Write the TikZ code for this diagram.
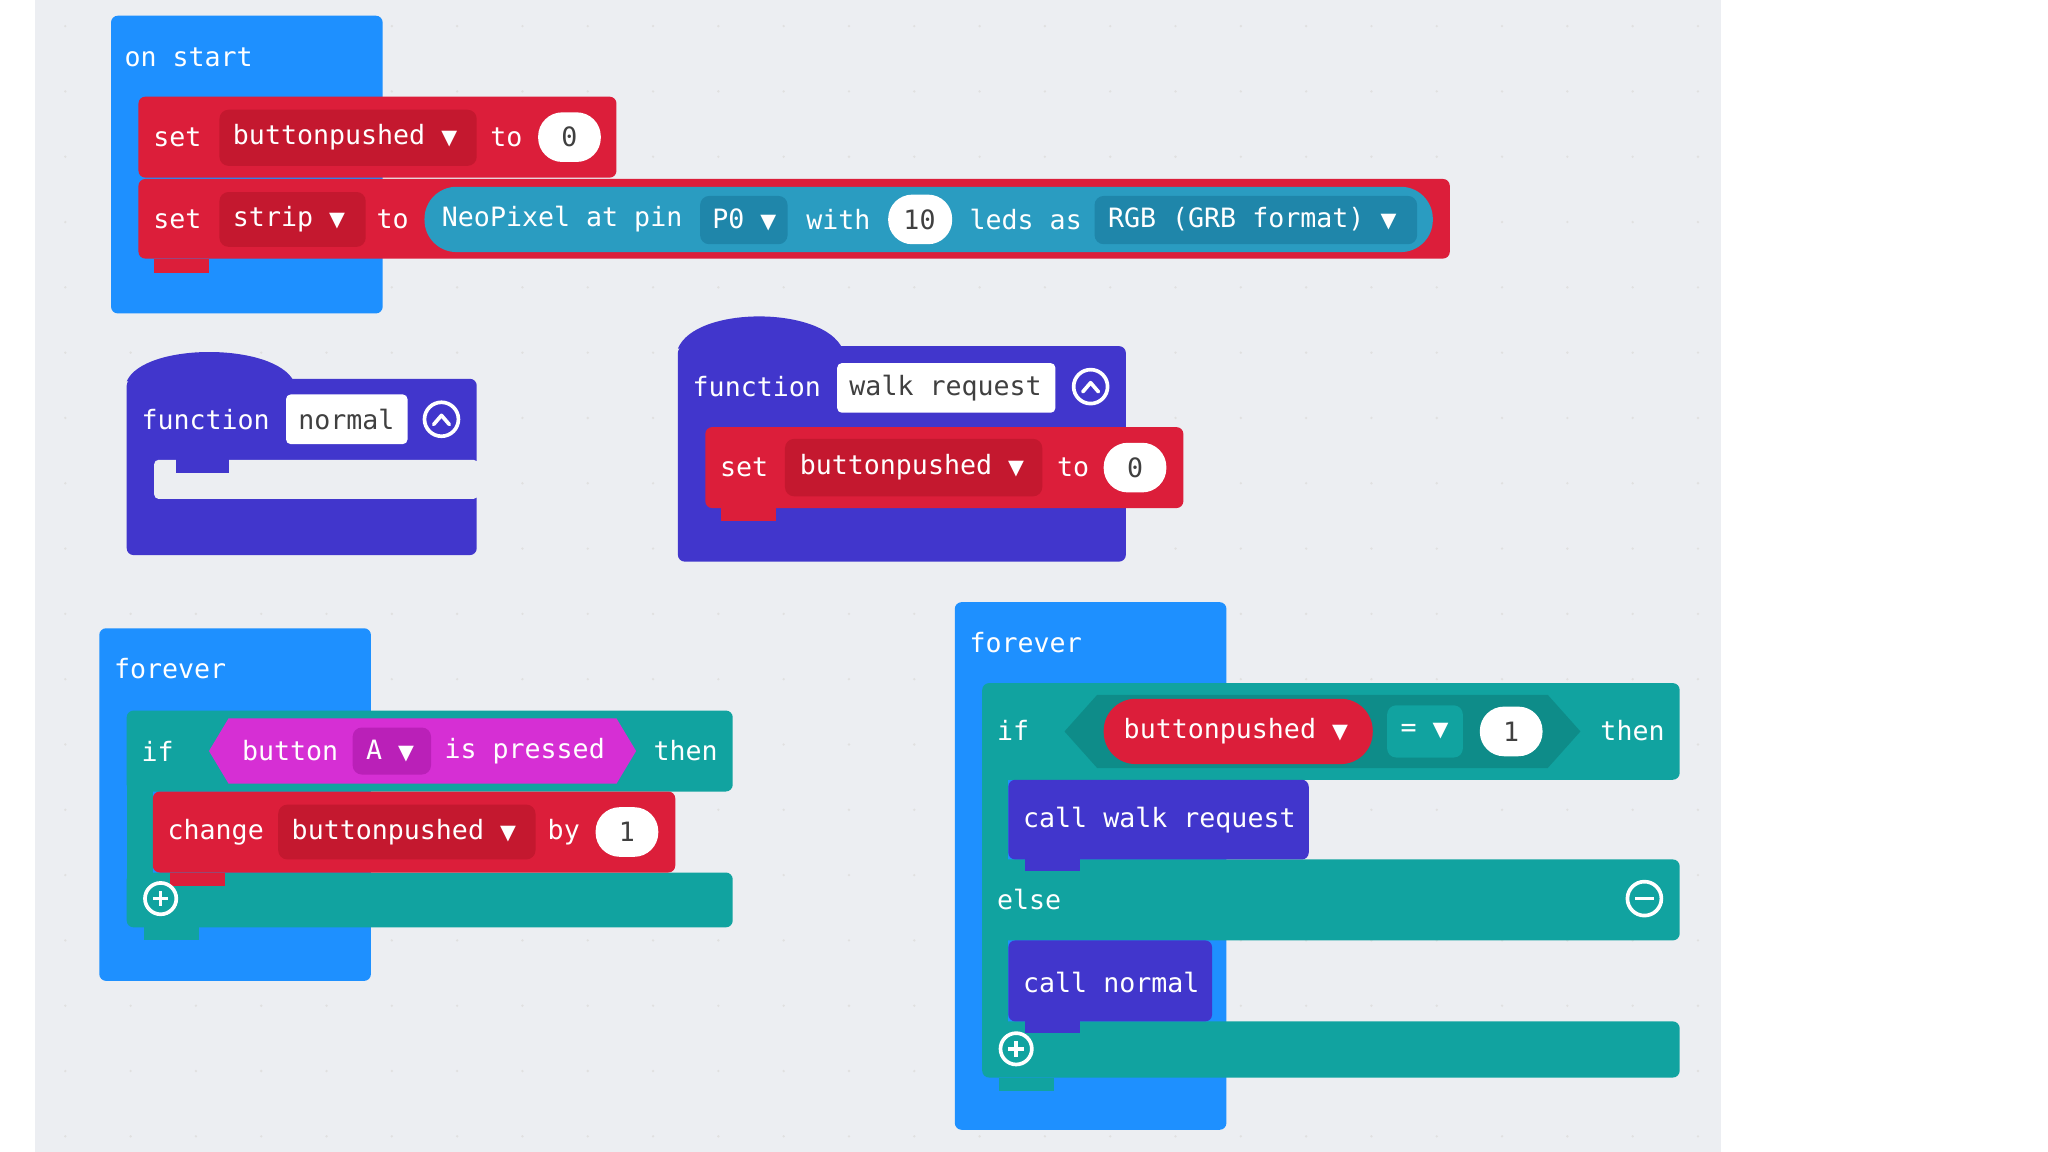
\documentclass[tikz,border=0pt]{standalone}
\usepackage{fontspec}
\setmonofont{DejaVu Sans Mono}
\newfontfamily\symf{DejaVu Sans}
\definecolor{bg}{HTML}{ECEEF2}
\definecolor{blueC}{HTML}{1E90FF}
\definecolor{redC}{HTML}{DC1E3A}
\definecolor{redD}{HTML}{C4182F}
\definecolor{neo}{HTML}{2A9CC1}
\definecolor{neoD}{HTML}{1F86AA}
\definecolor{logic}{HTML}{11A3A0}
\definecolor{logicD}{HTML}{0E8C89}
\definecolor{purp}{HTML}{4136CC}
\definecolor{mag}{HTML}{D62FD4}
\definecolor{magD}{HTML}{BA20B8}
\newcommand{\dd}{ {\symf\fontsize{9}{10}\selectfont\char"25BC}}
\tikzset{
 txt/.style={text=white,font=\ttfamily\fontsize{11.6}{14}\selectfont,anchor=west,inner sep=0},
 dtxt/.style={txt,text=black!75},
 pill/.style={fill=white,rounded corners=0.37cm},
 icon/.style={draw=white,line width=1.6pt},
}
\begin{document}
\begin{tikzpicture}[x=0.02cm,y=-0.02cm]
\useasboundingbox (0,0) rectangle (1568,882);
\fill[white] (0,0) rectangle (1568,882);
\fill[bg] (27,0) rectangle (1318,882);
\foreach \i in {0,...,25} \foreach \j in {0,...,17} \fill[black!12] (50+\i*50,20+\j*50) circle (1);
% on start
\fill[blueC,rounded corners=3pt] (85,12) rectangle (293,240);
\node[txt] (onstart) at (95,44) {on start};
\fill[redC,rounded corners=3pt] (106,74) rectangle (472,136);
\fill[redC,rounded corners=3pt] (106,137) rectangle (1110,198);
\fill[redC] (118,198) rectangle (160,209);
\node[txt] (set1) at (117,105) {set};
\fill[redD,rounded corners=4pt] (168,84) rectangle (365,127);
\node[txt] (bp1) at (178,105) {buttonpushed\dd};
\node[txt] (to1) at (375,105) {to};
\fill[pill] (412,86) rectangle (460,124);
\node[dtxt,anchor=center] (z1) at (436,105) {0};
\node[txt] (set2) at (117,168) {set};
\fill[redD,rounded corners=4pt] (168,147) rectangle (280,189);
\node[txt] (strip) at (178,168) {strip\dd};
\node[txt] (to2) at (288,168) {to};
\fill[neo,rounded corners=0.49cm] (325,143) rectangle (1097,193);
\node[txt] (neo) at (338,168) {NeoPixel at pin};
\fill[neoD,rounded corners=4pt] (536,150) rectangle (603,187);
\node[txt] (p0) at (545,168) {P0\dd};
\node[txt] (with) at (617,168) {with};
\fill[pill] (680,149) rectangle (729,187);
\node[dtxt,anchor=center] (ten) at (704,168) {10};
\node[txt] (leds) at (742,168) {leds as};
\fill[neoD,rounded corners=4pt] (838,150) rectangle (1085,187);
\node[txt] (rgb) at (848,168) {RGB (GRB format)\dd};
% function normal
\fill[purp] (97,292) .. controls (110,262) and (210,262) .. (225,292) -- cycle;
\fill[purp,rounded corners=3pt] (97,290) rectangle (365,425);
\fill[bg,rounded corners=2pt] (118,352) rectangle (366,382);
\fill[purp] (135,350) rectangle (175,362);
\node[txt] (fn1) at (108,321) {function};
\fill[white,rounded corners=2pt] (219,302) rectangle (312,340);
\node[dtxt] (nrm) at (228,321) {normal};
\draw[icon] (338,321) circle (13);
\draw[icon,line cap=round,line join=round] (332,325) -- (338,318) -- (344,325);
% function walk request
\fill[purp] (519,267) .. controls (532,234) and (630,234) .. (645,267) -- cycle;
\fill[purp,rounded corners=3pt] (519,265) rectangle (862,430);
\node[txt] (fn2) at (530,296) {function};
\fill[white,rounded corners=2pt] (641,278) rectangle (808,316);
\node[dtxt] (wr) at (650,297) {walk request};
\draw[icon] (835,296) circle (13);
\draw[icon,line cap=round,line join=round] (829,300) -- (835,293) -- (841,300);
\fill[redC,rounded corners=3pt] (540,327) rectangle (906,389);
\fill[redC] (552,389) rectangle (594,399);
\node[txt] (set3) at (551,358) {set};
\fill[redD,rounded corners=4pt] (601,336) rectangle (798,380);
\node[txt] (bp3) at (612,358) {buttonpushed\dd};
\node[txt] (to3) at (809,358) {to};
\fill[pill] (845,339) rectangle (893,377);
\node[dtxt,anchor=center] (z3) at (869,358) {0};
% forever left
\fill[blueC,rounded corners=3pt] (76,481) rectangle (284,751);
\node[txt] (fv1) at (87,512) {forever};
\fill[logic,rounded corners=3pt] (97,544) rectangle (561,606);
\fill[logic] (97,600) rectangle (117,672);
\fill[logic,rounded corners=3pt] (97,668) rectangle (561,710);
\fill[logic] (110,710) rectangle (152,720);
\node[txt] (if1) at (108,575) {if};
\fill[mag] (160,575) -- (175,550) -- (472,550) -- (487,575) -- (472,600) -- (175,600) -- cycle;
\node[txt] (btn) at (185,575) {button};
\fill[magD,rounded corners=4pt] (270,557) rectangle (330,593);
\node[txt] (A) at (280,575) {A\dd};
\node[txt] (isp) at (340,575) {is pressed};
\node[txt] (then1) at (500,575) {then};
\fill[redC,rounded corners=3pt] (117,606) rectangle (517,668);
\fill[redC] (130,668) rectangle (172,678);
\node[txt] (chg) at (128,637) {change};
\fill[redD,rounded corners=4pt] (213,616) rectangle (410,658);
\node[txt] (bp4) at (223,637) {buttonpushed\dd};
\node[txt] (by) at (419,637) {by};
\fill[pill] (456,618) rectangle (504,656);
\node[dtxt,anchor=center] (one1) at (480,637) {1};
\draw[icon] (123,688) circle (12);
\draw[icon] (117,688) -- (129,688) (123,682) -- (123,694);
% forever right
\fill[blueC,rounded corners=3pt] (731,461) rectangle (939,865);
\node[txt] (fv2) at (742,492) {forever};
\fill[logic,rounded corners=3pt] (752,523) rectangle (1286,597);
\fill[logic] (752,590) rectangle (772,664);
\fill[logic,rounded corners=3pt] (752,658) rectangle (1286,720);
\fill[logic] (752,714) rectangle (772,788);
\fill[logic,rounded corners=3pt] (752,782) rectangle (1286,825);
\fill[logic] (765,825) rectangle (807,835);
\node[txt] (if2) at (763,559) {if};
\fill[logicD] (815,560) -- (840,532) -- (1185,532) -- (1210,560) -- (1185,588) -- (840,588) -- cycle;
\fill[redC,rounded corners=0.49cm] (845,535) rectangle (1051,585);
\node[txt] (bp5) at (860,560) {buttonpushed\dd};
\fill[logic,rounded corners=4pt] (1062,540) rectangle (1120,580);
\node[txt] (eq) at (1072,560) {=\dd};
\fill[pill] (1133,541) rectangle (1181,579);
\node[dtxt,anchor=center] (one2) at (1157,560) {1};
\node[txt] (then2) at (1225,559) {then};
\fill[purp,rounded corners=3pt] (772,597) rectangle (1002,658);
\fill[purp] (785,658) rectangle (827,667);
\node[txt] (cwr) at (783,628) {call walk request};
\node[txt] (else) at (763,689) {else};
\draw[icon] (1259,688) circle (13);
\draw[icon] (1252,688) -- (1266,688);
\fill[purp,rounded corners=3pt] (772,720) rectangle (928,782);
\fill[purp] (785,782) rectangle (827,791);
\node[txt] (cn) at (783,752) {call normal};
\draw[icon] (778,803) circle (12);
\draw[icon] (772,803) -- (784,803) (778,797) -- (778,809);
\end{tikzpicture}
\end{document}
